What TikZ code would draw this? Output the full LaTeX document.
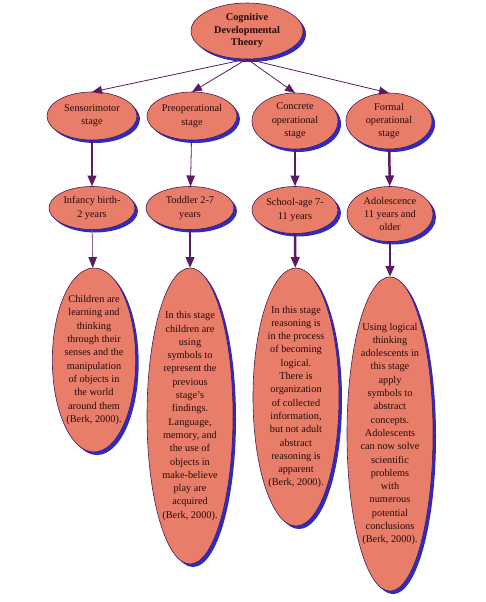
\documentclass[tikz,border=0pt]{standalone}
\usepackage{fontspec}
\setmainfont{Liberation Serif}
\usetikzlibrary{shapes.geometric,arrows.meta,shadows}
\definecolor{salmon}{RGB}{232,125,105}
\definecolor{shb}{RGB}{44,44,196}
\definecolor{bord}{RGB}{75,26,85}
\definecolor{arr}{RGB}{92,26,99}
\definecolor{txt}{RGB}{40,10,10}
\tikzset{
  oval/.style={ellipse, draw=bord, line width=0.6pt, fill=salmon, inner sep=0pt, outer sep=0pt,
    align=center, text=txt, font=\fontsize{10.3}{13.3}\selectfont,
    drop shadow={shadow xshift=3pt, shadow yshift=-3pt, fill=shb, opacity=1}},
  thinarr/.style={draw=arr, line width=0.8pt, -{Triangle[length=10pt,width=8pt]}},
  thickarr/.style={draw=arr, line width=2.5pt, -{Triangle[length=11pt,width=8.5pt]}},
  lightarr/.style={draw=arr!70, line width=0.8pt, -{Triangle[length=11pt,width=8.5pt,color=arr]}}
}
\begin{document}
\begin{tikzpicture}[x=1pt,y=-1pt]
\useasboundingbox (0,0) rectangle (485,602);
% top
\node[oval, minimum width=112pt, minimum height=56pt, font=\bfseries\fontsize{10.3}{12.5}\selectfont] (top) at (247,31) {Cognitive\\Developmental\\Theory};
% row 2
\node[oval, minimum width=90pt, minimum height=48pt] (s1) at (92,116) {Sensorimotor\\stage};
\node[oval, minimum width=90pt, minimum height=48pt] (s2) at (192,116) {Preoperational\\stage};
\node[oval, minimum width=86pt, minimum height=56pt] (s3) at (295,121) {Concrete\\operational\\stage};
\node[oval, minimum width=86pt, minimum height=56pt] (s4) at (389,121) {Formal\\operational\\stage};
% row 3
\node[oval, minimum width=86pt, minimum height=43pt] (a1) at (92,208) {Infancy birth-\\2 years};
\node[oval, minimum width=88pt, minimum height=43pt] (a2) at (190,208) {Toddler 2-7\\years};
\node[oval, minimum width=86pt, minimum height=47pt] (a3) at (295,210) {School-age 7-\\11 years};
\node[oval, minimum width=86pt, minimum height=55pt] (a4) at (390,214) {Adolescence\\11 years and\\older};
% row 4
\node[oval, minimum width=82pt, minimum height=184pt] (d1) at (94,360)
  {Children are\\learning and\\thinking\\through their\\senses and the\\manipulation\\of objects in\\the world\\around them\\(Berk, 2000).};
\node[oval, minimum width=86pt, minimum height=296pt] (d2) at (190,416)
  {In this stage\\children are\\using\\symbols to\\represent the\\previous\\stage's\\findings.\\Language,\\memory, and\\the use of\\objects in\\make-believe\\play are\\acquired\\(Berk, 2000).};
\node[oval, minimum width=86pt, minimum height=258pt] (d3) at (296,397)
  {In this stage\\reasoning is\\in the process\\of becoming\\logical.\\There is\\organization\\of collected\\information,\\but not adult\\abstract\\reasoning is\\apparent\\(Berk, 2000).};
\node[oval, minimum width=86pt, minimum height=312pt] (d4) at (390,434)
  {Using logical\\thinking\\adolescents in\\this stage\\apply\\symbols to\\abstract\\concepts.\\Adolescents\\can now solve\\scientific\\problems\\with\\numerous\\potential\\conclusions\\(Berk, 2000).};
% connectors
\foreach \n in {s1,s2,s3,s4} \draw[thinarr] (top.south) -- (\n.north);
\draw[thickarr] (s1) -- (a1);
\draw[thinarr, -{Triangle[length=11pt,width=8.5pt]}] (s2) -- (a2);
\draw[thickarr] (s3) -- (a3);
\draw[thickarr] (s4) -- (a4);
\draw[lightarr] (a1) -- (d1);
\draw[thickarr] (a2) -- (d2);
\draw[thickarr] (a3) -- (d3);
\draw[thickarr] (a4) -- (d4);
\end{tikzpicture}
\end{document}
